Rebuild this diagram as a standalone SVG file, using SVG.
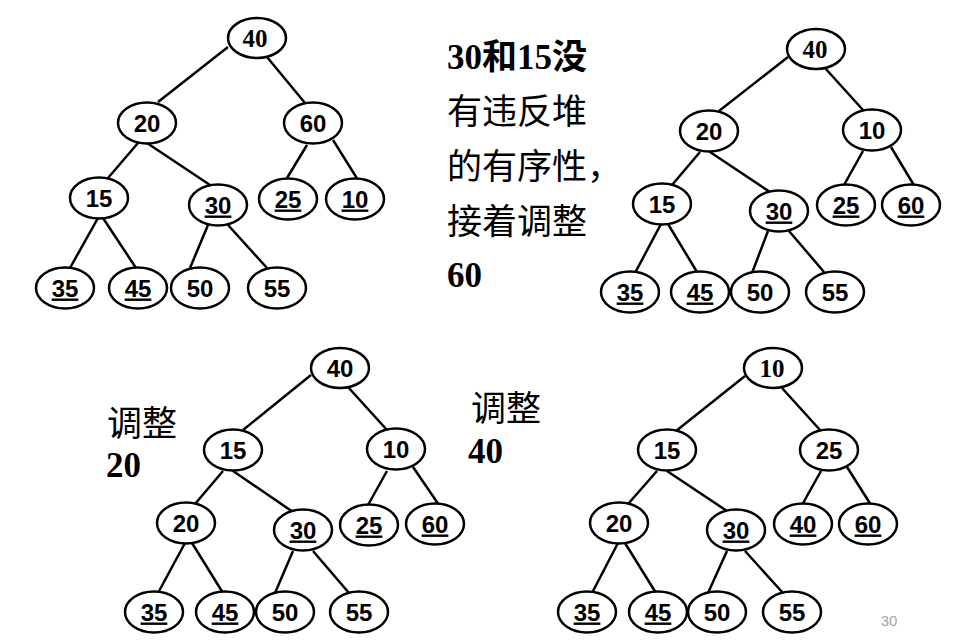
<svg xmlns="http://www.w3.org/2000/svg" width="953" height="642" viewBox="0 0 953 642">
<style>
.n ellipse{fill:#fff;stroke:#000;stroke-width:2.5}
.n text{font-family:"Liberation Sans",Arial,sans-serif;font-weight:bold;font-size:24px;text-anchor:middle;fill:#000}
.n text.s{font-family:"Liberation Serif","Times New Roman",serif;font-size:25px}
.n text.u{text-decoration:underline;text-decoration-thickness:1.5px;text-underline-offset:3px}
#edges line{stroke:#000;stroke-width:2.5}
.t{font-family:"Liberation Serif","Noto Sans CJK SC",serif;font-size:35px;fill:#000}
.b{font-weight:bold}
</style>
<rect width="953" height="642" fill="#fff"/>
<g id="edges">
<!-- tree 1 -->
<line x1="228" y1="47" x2="158" y2="102"/>
<line x1="267" y1="57" x2="305" y2="103"/>
<line x1="138" y1="143" x2="108" y2="178"/>
<line x1="147" y1="143" x2="210" y2="185"/>
<line x1="307" y1="145" x2="287" y2="178"/>
<line x1="333" y1="140" x2="358" y2="180"/>
<line x1="98" y1="218" x2="70" y2="268"/>
<line x1="103" y1="218" x2="136" y2="268"/>
<line x1="208" y1="225" x2="190" y2="268"/>
<line x1="228" y1="225" x2="267" y2="268"/>
<!-- tree 2 -->
<line x1="788" y1="57" x2="719" y2="111"/>
<line x1="825" y1="68" x2="863" y2="110"/>
<line x1="700" y1="152" x2="672" y2="185"/>
<line x1="710" y1="152" x2="770" y2="192"/>
<line x1="863" y1="151" x2="844" y2="185"/>
<line x1="891" y1="147" x2="915" y2="187"/>
<line x1="661" y1="224" x2="635" y2="273"/>
<line x1="668" y1="224" x2="697" y2="272"/>
<line x1="768" y1="231" x2="752" y2="273"/>
<line x1="789" y1="231" x2="824" y2="272"/>
<!-- tree 3 -->
<line x1="311" y1="375" x2="243" y2="430"/>
<line x1="348" y1="387" x2="387" y2="430"/>
<line x1="223" y1="471" x2="195" y2="504"/>
<line x1="233" y1="471" x2="293" y2="512"/>
<line x1="387" y1="471" x2="368" y2="505"/>
<line x1="413" y1="467" x2="439" y2="505"/>
<line x1="185" y1="543" x2="158" y2="593"/>
<line x1="192" y1="543" x2="223" y2="593"/>
<line x1="293" y1="551" x2="275" y2="593"/>
<line x1="313" y1="551" x2="349" y2="593"/>
<!-- tree 4 -->
<line x1="745" y1="376" x2="676" y2="431"/>
<line x1="782" y1="388" x2="820" y2="430"/>
<line x1="657" y1="471" x2="628" y2="504"/>
<line x1="667" y1="471" x2="727" y2="511"/>
<line x1="821" y1="471" x2="802" y2="505"/>
<line x1="847" y1="467" x2="871" y2="505"/>
<line x1="618" y1="543" x2="592" y2="593"/>
<line x1="625" y1="543" x2="656" y2="593"/>
<line x1="727" y1="551" x2="708" y2="593"/>
<line x1="745" y1="551" x2="783" y2="593"/>
</g>

<!-- tree 1 -->
<g id="t1-40" class="n"><ellipse cx="257" cy="38" rx="29" ry="20"/><text class="s" x="255" y="46.5">40</text></g>
<g id="t1-20" class="n"><ellipse cx="147" cy="123" rx="29" ry="20.5"/><text x="147" y="131.5">20</text></g>
<g id="t1-60" class="n"><ellipse cx="313" cy="123" rx="29" ry="20.5"/><text x="313" y="131.5">60</text></g>
<g id="t1-15" class="n"><ellipse cx="99" cy="198" rx="29" ry="20.5"/><text x="99" y="206.5">15</text></g>
<g id="t1-30" class="n"><ellipse cx="218" cy="205" rx="29" ry="20.5"/><text class="u" x="218" y="213.5">30</text></g>
<g id="t1-25" class="n"><ellipse cx="288" cy="199" rx="29" ry="20.5"/><text class="u" x="288" y="207.5">25</text></g>
<g id="t1-10" class="n"><ellipse cx="355" cy="199" rx="29" ry="20.5"/><text class="u" x="355" y="207.5">10</text></g>
<g id="t1-35" class="n"><ellipse cx="65" cy="288" rx="29" ry="20.5"/><text class="u" x="65" y="296.5">35</text></g>
<g id="t1-45" class="n"><ellipse cx="138" cy="288" rx="29" ry="20.5"/><text class="u" x="138" y="296.5">45</text></g>
<g id="t1-50" class="n"><ellipse cx="200" cy="288" rx="29" ry="20.5"/><text x="200" y="296.5">50</text></g>
<g id="t1-55" class="n"><ellipse cx="277" cy="288" rx="29" ry="20.5"/><text x="277" y="296.5">55</text></g>

<!-- tree 2 -->
<g id="t2-40" class="n"><ellipse cx="816" cy="49" rx="29" ry="20"/><text class="s" x="815" y="57.5">40</text></g>
<g id="t2-20" class="n"><ellipse cx="709" cy="131" rx="29" ry="20.5"/><text x="709" y="139.5">20</text></g>
<g id="t2-10" class="n"><ellipse cx="872" cy="130" rx="29" ry="20.5"/><text x="872" y="138.5">10</text></g>
<g id="t2-15" class="n"><ellipse cx="662" cy="204" rx="29" ry="20.5"/><text x="662" y="212.5">15</text></g>
<g id="t2-30" class="n"><ellipse cx="779" cy="211" rx="29" ry="20.5"/><text class="u" x="779" y="219.5">30</text></g>
<g id="t2-25" class="n"><ellipse cx="846" cy="205" rx="29" ry="20.5"/><text class="u" x="846" y="213.5">25</text></g>
<g id="t2-60" class="n"><ellipse cx="911" cy="205" rx="29" ry="20.5"/><text class="u" x="911" y="213.5">60</text></g>
<g id="t2-35" class="n"><ellipse cx="630" cy="292" rx="29" ry="20.5"/><text class="u" x="630" y="300.5">35</text></g>
<g id="t2-45" class="n"><ellipse cx="700" cy="292" rx="29" ry="20.5"/><text class="u" x="700" y="300.5">45</text></g>
<g id="t2-50" class="n"><ellipse cx="760" cy="292" rx="29" ry="20.5"/><text x="760" y="300.5">50</text></g>
<g id="t2-55" class="n"><ellipse cx="835" cy="292" rx="29" ry="20.5"/><text x="835" y="300.5">55</text></g>

<!-- tree 3 -->
<g id="t3-40" class="n"><ellipse cx="340" cy="368" rx="29" ry="20"/><text x="340" y="376.5">40</text></g>
<g id="t3-15" class="n"><ellipse cx="233" cy="450" rx="29" ry="20.5"/><text x="233" y="458.5">15</text></g>
<g id="t3-10" class="n"><ellipse cx="396" cy="449" rx="29" ry="20.5"/><text x="396" y="457.5">10</text></g>
<g id="t3-20" class="n"><ellipse cx="186" cy="523" rx="29" ry="20.5"/><text x="186" y="531.5">20</text></g>
<g id="t3-30" class="n"><ellipse cx="303" cy="530" rx="29" ry="20.5"/><text class="u" x="303" y="538.5">30</text></g>
<g id="t3-25" class="n"><ellipse cx="369" cy="525" rx="29" ry="20.5"/><text class="u" x="369" y="533.5">25</text></g>
<g id="t3-60" class="n"><ellipse cx="435" cy="524" rx="29" ry="20.5"/><text class="u" x="435" y="532.5">60</text></g>
<g id="t3-35" class="n"><ellipse cx="154" cy="612" rx="29" ry="20.5"/><text class="u" x="154" y="620.5">35</text></g>
<g id="t3-45" class="n"><ellipse cx="225" cy="612" rx="29" ry="20.5"/><text class="u" x="225" y="620.5">45</text></g>
<g id="t3-50" class="n"><ellipse cx="285" cy="612" rx="29" ry="20.5"/><text x="285" y="620.5">50</text></g>
<g id="t3-55" class="n"><ellipse cx="359" cy="612" rx="29" ry="20.5"/><text x="359" y="620.5">55</text></g>

<!-- tree 4 -->
<g id="t4-10" class="n"><ellipse cx="773" cy="368" rx="29" ry="20"/><text class="s" x="772" y="376.5">10</text></g>
<g id="t4-15" class="n"><ellipse cx="667" cy="450" rx="29" ry="20.5"/><text x="667" y="458.5">15</text></g>
<g id="t4-25" class="n"><ellipse cx="829" cy="450" rx="29" ry="20.5"/><text x="829" y="458.5">25</text></g>
<g id="t4-20" class="n"><ellipse cx="619" cy="523" rx="29" ry="20.5"/><text x="619" y="531.5">20</text></g>
<g id="t4-30" class="n"><ellipse cx="736" cy="530" rx="29" ry="20.5"/><text class="u" x="736" y="538.5">30</text></g>
<g id="t4-40" class="n"><ellipse cx="803" cy="524" rx="29" ry="20.5"/><text class="u" x="803" y="532.5">40</text></g>
<g id="t4-60" class="n"><ellipse cx="868" cy="524" rx="29" ry="20.5"/><text class="u" x="868" y="532.5">60</text></g>
<g id="t4-35" class="n"><ellipse cx="587" cy="612" rx="29" ry="20.5"/><text class="u" x="587" y="620.5">35</text></g>
<g id="t4-45" class="n"><ellipse cx="658" cy="612" rx="29" ry="20.5"/><text class="u" x="658" y="620.5">45</text></g>
<g id="t4-50" class="n"><ellipse cx="717" cy="612" rx="29" ry="20.5"/><text x="717" y="620.5">50</text></g>
<g id="t4-55" class="n"><ellipse cx="792" cy="612" rx="29" ry="20.5"/><text x="792" y="620.5">55</text></g>

<!-- annotations -->
<g id="note1">
<text class="t b" x="447" y="69">30和15没</text>
<text class="t" x="447" y="124">有违反堆</text>
<text class="t" x="447" y="179">的有序性，</text>
<text class="t" x="447" y="234">接着调整</text>
<text class="t b" x="447" y="287">60</text>
</g>
<g id="note2">
<text class="t" x="107" y="436">调整</text>
<text class="t b" x="106" y="477">20</text>
</g>
<g id="note3">
<text class="t" x="471" y="421">调整</text>
<text class="t b" x="468" y="463">40</text>
</g>
<text x="889" y="626" font-family="'Liberation Sans',Arial,sans-serif" font-size="15" fill="#a6a6a6" text-anchor="middle">30</text>
</svg>
